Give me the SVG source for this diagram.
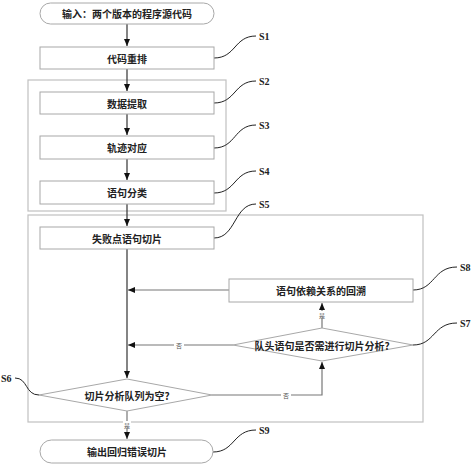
<svg xmlns="http://www.w3.org/2000/svg" width="474" height="464" viewBox="0 0 474 464">
<style>
.box{fill:#fff;stroke:#a8a8a8;stroke-width:1}
.grp{fill:none;stroke:#c0c0c0;stroke-width:1.2}
.t{font-family:"Noto Sans CJK SC","Liberation Serif",sans-serif;font-size:10px;font-weight:bold;fill:#222;text-anchor:middle;dominant-baseline:central}
.lab{font-family:"Liberation Serif",serif;font-size:10px;font-weight:bold;fill:#222}
.small{font-family:"Noto Sans CJK SC",sans-serif;font-size:6px;fill:#555;text-anchor:middle;dominant-baseline:central}
.ln{fill:none;stroke:#333;stroke-width:1.2}
.gl{fill:none;stroke:#777;stroke-width:1.2}
.lead{fill:none;stroke:#222;stroke-width:1}
</style>
<defs>
<marker id="ah" markerWidth="8" markerHeight="8" refX="7" refY="4" orient="auto" markerUnits="userSpaceOnUse">
<path d="M0,1 L7,4 L0,7 Z" fill="#111"/>
</marker>
</defs>
<rect class="grp" x="28" y="80" width="198" height="131"/>
<rect class="grp" x="28" y="215" width="395" height="207"/>
<g id="connectors">
<path class="ln" d="M127,24 V46" marker-end="url(#ah)"/>
<path class="ln" d="M127,69 V91" marker-end="url(#ah)"/>
<path class="ln" d="M127,114 V135" marker-end="url(#ah)"/>
<path class="ln" d="M127,159 V180" marker-end="url(#ah)"/>
<path class="ln" d="M127,204 V226" marker-end="url(#ah)"/>
<path class="ln" d="M127,249 V378" marker-end="url(#ah)"/>
<path class="gl" d="M229,290 H128" marker-end="url(#ah)"/>
<path class="gl" d="M233,345 H128" marker-end="url(#ah)"/>
<path class="gl" d="M322,328 V303" marker-end="url(#ah)"/>
<path class="gl" d="M212,395 H322 V362" marker-end="url(#ah)"/>
<path class="gl" d="M127,411 V439" marker-end="url(#ah)"/>
<rect x="174" y="341" width="10" height="8" fill="#fff"/>
<text class="small" x="179" y="345">否</text>
<rect x="281" y="391" width="10" height="8" fill="#fff"/>
<text class="small" x="286" y="395">否</text>
<rect x="318" y="311" width="8" height="8" fill="#fff"/>
<text class="small" x="322" y="315">是</text>
<rect x="123" y="421" width="8" height="8" fill="#fff"/>
<text class="small" x="127" y="425">是</text>
<path class="lead" d="M214,58 C236,58 234,36 256,36"/>
<path class="lead" d="M214,103 C236,103 234,81 256,81"/>
<path class="lead" d="M214,148 C236,148 234,125 256,125"/>
<path class="lead" d="M214,193 C236,193 234,171 256,171"/>
<path class="lead" d="M214,238 C236,238 234,204 256,204"/>
<path class="lead" d="M413,290 C435,290 433,267 457,267"/>
<path class="lead" d="M413,345 C435,345 433,323 457,323"/>
<path class="lead" d="M39,395 C25,395 28,378 15,378"/>
<path class="lead" d="M213,452 C235,452 233,430 256,430"/>
</g>
<g id="start">
<rect class="box" x="40" y="3" width="174" height="21" rx="10.5"/>
<text class="t" x="127" y="13.5">输入：两个版本的程序源代码</text>
</g>
<g id="S1">
<rect class="box" x="40" y="47" width="174" height="22"/>
<text class="t" x="127" y="58">代码重排</text>
<text class="lab" x="259" y="40">S1</text>
</g>
<g id="S2">
<rect class="box" x="40" y="92" width="174" height="22"/>
<text class="t" x="127" y="103">数据提取</text>
<text class="lab" x="259" y="85">S2</text>
</g>
<g id="S3">
<rect class="box" x="40" y="136" width="174" height="23"/>
<text class="t" x="127" y="147.5">轨迹对应</text>
<text class="lab" x="259" y="129">S3</text>
</g>
<g id="S4">
<rect class="box" x="40" y="181" width="174" height="23"/>
<text class="t" x="127" y="192.5">语句分类</text>
<text class="lab" x="259" y="175">S4</text>
</g>
<g id="S5">
<rect class="box" x="40" y="227" width="174" height="22"/>
<text class="t" x="127" y="238">失败点语句切片</text>
<text class="lab" x="259" y="208">S5</text>
</g>
<g id="S8">
<rect class="box" x="229" y="279" width="184" height="23"/>
<text class="t" x="321" y="290.5">语句依赖关系的回溯</text>
<text class="lab" x="460" y="271">S8</text>
</g>
<g id="S7">
<polygon class="box" points="233,345 322,328 413,345 322,361"/>
<text class="t" x="322" y="345">队头语句是否需进行切片分析?</text>
<text class="lab" x="460" y="327">S7</text>
</g>
<g id="S6">
<polygon class="box" points="39,395 127,379 212,395 127,411"/>
<text class="t" x="127" y="395">切片分析队列为空?</text>
<text class="lab" x="1" y="382">S6</text>
</g>
<g id="S9">
<rect class="box" x="40" y="440" width="173" height="23" rx="11.5"/>
<text class="t" x="127" y="451.5">输出回归错误切片</text>
<text class="lab" x="259" y="434">S9</text>
</g>
</svg>
